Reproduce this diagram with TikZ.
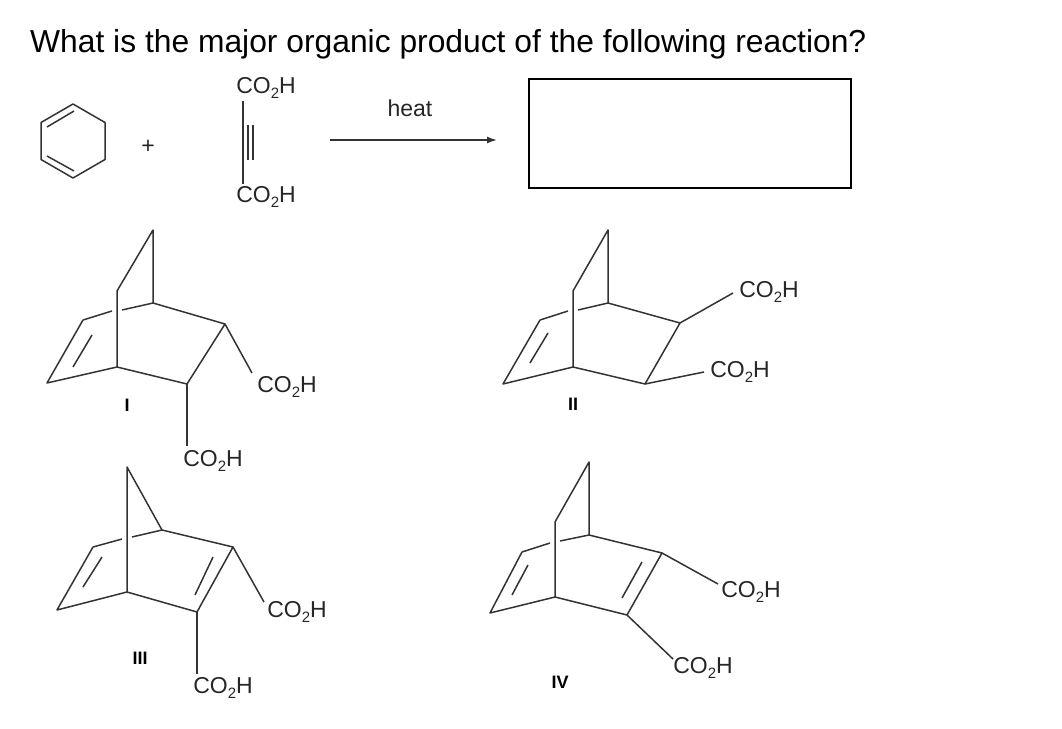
\documentclass[tikz,border=0pt]{standalone}
\usepackage{fontspec}
\setmainfont{Liberation Sans}
\usetikzlibrary{arrows.meta}
\newcommand\cooh{CO\raisebox{-.35ex}{\fontsize{15}{15}\selectfont 2}H}
\begin{document}
\begin{tikzpicture}[x=1pt,y=-1pt,
  bond/.style={line width=1.5pt,line join=round,color=black!80},
  grp/.style={font=\fontsize{23}{24}\selectfont,inner sep=0pt,text=black!85},
  lab/.style={font=\bfseries\fontsize{18}{19}\selectfont,inner sep=0pt}]
\useasboundingbox (0,0) rectangle (1062,728);
\node[anchor=base west,font=\fontsize{31.8}{34}\selectfont,inner sep=0pt] (title) at (30,52) {What is the major organic product of the following reaction?};
% cyclohexadiene
\coordinate (h1) at (73,104); \coordinate (h2) at (105,122.5); \coordinate (h3) at (105,159.5);
\coordinate (h4) at (73,178); \coordinate (h5) at (41,159.5); \coordinate (h6) at (41,122.5);
\draw[bond] (h1)--(h2)--(h3)--(h4)--(h5)--(h6)--cycle;
\draw[bond] (74,111)--(47,127); \draw[bond] (47,156)--(74,171);
\node[grp] (plus) at (148,147) {+};
% alkyne
\node[grp] (ta) at (266,88) {\cooh};
\node[grp] (tb) at (266,197) {\cooh};
\coordinate (a1) at (243,101); \coordinate (a2) at (243,184);
\draw[bond] (a1)--(a2);
\draw[bond] (248,125)--(248,160); \draw[bond] (253,125)--(253,160);
% arrow
\coordinate (r1) at (330,140); \coordinate (r2) at (497,140);
\draw[bond,-{Latex[length=10pt,width=7pt]}] (r1)--(r2);
\node[grp] (heat) at (410,108) {heat};
\node[draw,line width=1.5pt,minimum width=322pt,minimum height=109pt,inner sep=0pt] (box) at (690,133.5) {};
% I
\begin{scope}
\coordinate (A) at (153,230); \coordinate (B) at (117,291); \coordinate (C) at (153,303);
\coordinate (D) at (117,367); \coordinate (E) at (83,320); \coordinate (F) at (47,383);
\coordinate (G) at (187,384); \coordinate (H) at (225,324);
\draw[bond] (C)--(A)--(B)--(D)--(G)--(H)--(C);
\draw[bond] (E)--(F)--(D);
\draw[bond] (E)--(112,311); \draw[bond] (122,310)--(C);
\draw[bond] (92,335)--(73,367);
\node[grp] (I1) at (287,387) {\cooh};
\node[grp] (I2) at (213,461) {\cooh};
\draw[bond] (H)--(252,373); \draw[bond] (G)--(187,446);
\node[lab] (lI) at (127,405) {I};
\end{scope}
% II
\begin{scope}
\coordinate (A) at (608,230); \coordinate (B) at (573,291); \coordinate (C) at (608,303);
\coordinate (D) at (573,367); \coordinate (E) at (540,320); \coordinate (F) at (503,384);
\coordinate (G) at (645,384); \coordinate (H) at (680,323);
\draw[bond] (C)--(A)--(B)--(D)--(G)--(H)--(C);
\draw[bond] (E)--(F)--(D);
\draw[bond] (E)--(568,311); \draw[bond] (578,310)--(C);
\draw[bond] (548,333)--(530,363);
\node[grp] (II1) at (769,292) {\cooh};
\node[grp] (II2) at (740,372) {\cooh};
\draw[bond] (H)--(733,293); \draw[bond] (G)--(704,372);
\node[lab] (lII) at (573,404) {II};
\end{scope}
% III
\begin{scope}
\coordinate (A) at (127,467); \coordinate (C) at (162,530);
\coordinate (D) at (127,592); \coordinate (E) at (93,547); \coordinate (F) at (57,610);
\coordinate (G) at (197,612); \coordinate (H) at (233,547);
\draw[bond] (C)--(A)--(D)--(G)--(H)--(C);
\draw[bond] (E)--(F)--(D);
\draw[bond] (E)--(122,539); \draw[bond] (132,537)--(C);
\draw[bond] (102,557)--(83,587);
\draw[bond] (213,557)--(195,595);
\node[grp] (III1) at (297,612) {\cooh};
\node[grp] (III2) at (223,688) {\cooh};
\draw[bond] (H)--(264,602); \draw[bond] (G)--(197,674);
\node[lab] (lIII) at (140,658) {III};
\end{scope}
% IV
\begin{scope}
\coordinate (A) at (589,462); \coordinate (B) at (555,522); \coordinate (C) at (589,535);
\coordinate (D) at (555,597); \coordinate (E) at (522,552); \coordinate (F) at (490,613);
\coordinate (G) at (627,615); \coordinate (H) at (662,553);
\draw[bond] (C)--(A)--(B)--(D)--(G)--(H)--(C);
\draw[bond] (E)--(F)--(D);
\draw[bond] (E)--(550,543); \draw[bond] (560,541)--(C);
\draw[bond] (528,565)--(512,595);
\draw[bond] (642,562)--(622,598);
\node[grp] (IV1) at (751,592) {\cooh};
\node[grp] (IV2) at (703,668) {\cooh};
\draw[bond] (H)--(718,584); \draw[bond] (G)--(673,659);
\node[lab] (lIV) at (560,682) {IV};
\end{scope}
\end{tikzpicture}
\end{document}
